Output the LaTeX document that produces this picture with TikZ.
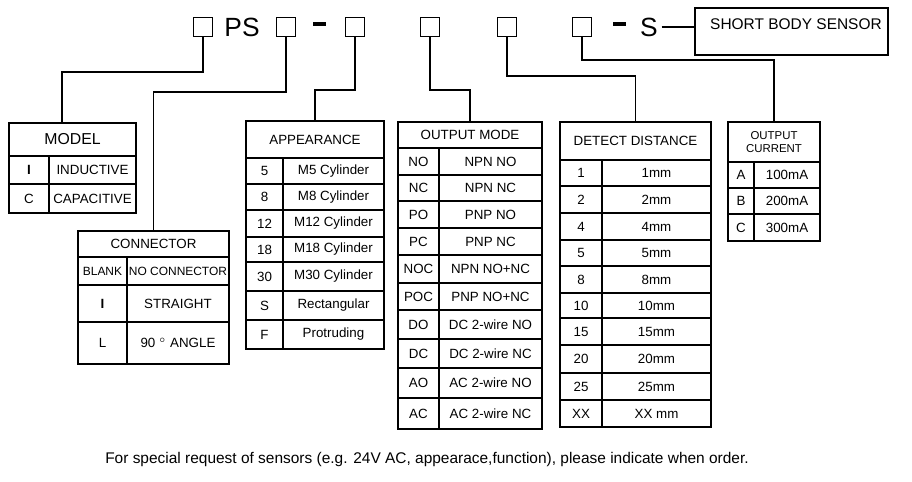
\documentclass[tikz,border=0pt]{standalone}
\usepackage{fontspec}
\setmainfont{Liberation Sans}
\usetikzlibrary{positioning}

\newcommand\cell[6]{\node[cell, minimum width={(#4-#2)*0.02cm}, minimum height={(#5-#3)*0.02cm}] (#1) at ({(#2+#4)/2},{(#3+#5)/2}) {#6};}
\newcommand\trow[8]{\cell{#1l}{#2}{#5}{#3}{#6}{#7}\cell{#1r}{#3}{#5}{#4}{#6}{#8}}

\begin{document}
\begin{tikzpicture}[x=0.02cm, y=-0.02cm,
  cell/.style={draw, line width=0.6pt, inner sep=0pt, font=\fontsize{7.6}{8.5}\selectfont},
  code/.style={draw, line width=0.5pt, minimum size=0.38cm, inner sep=0pt},
  bar/.style={fill, minimum width=0.26cm, minimum height=0.08cm, inner sep=0pt},
  big/.style={font=\fontsize{15}{17}\selectfont, inner sep=0pt},
  link/.style={line width=0.9pt}]

\path [use as bounding box] (0,0) rectangle (912,482);

% CODE
\node[code] (b1) at (203,27) {};
\node[big] (ps) at (242,27) {PS};
\node[code] (b2) at (286,27) {};
\node[bar] (d1) at (319,24) {};
\node[code] (b3) at (355,27) {};
\node[code] (b4) at (430,27) {};
\node[code] (b5) at (507,27) {};
\node[code] (b6) at (582,27) {};
\node[bar] (d2) at (619,24) {};
\node[big] (s) at (649,27) {S};
\node[draw, line width=0.6pt, minimum width=193*0.02cm, minimum height=47*0.02cm] (sbs) at (791.5,31.5) {};
\node[anchor=west, font=\fontsize{8.8}{10}\selectfont] at (704,24) {SHORT BODY SENSOR};
\draw [line width=0.6pt] (s.east) ++(2pt,0) coordinate (se) -- (se -| sbs.west);

% MODEL
\cell{mhead}{9}{123}{136}{156}{\fontsize{9}{10}\selectfont MODEL}
\trow{m1}{9}{49}{136}{156}{184}{\textbf{I}}{INDUCTIVE}
\trow{m2}{9}{49}{136}{184}{213}{C}{CAPACITIVE}

% CONNECTOR
\cell{chead}{78}{231}{229}{257}{CONNECTOR}
\trow{c1}{78}{127}{229}{257}{285}{\fontsize{6.8}{7}\selectfont BLANK}{\fontsize{6.8}{7}\selectfont NO CONNECTOR}
\trow{c2}{78}{127}{229}{285}{322}{\textbf{I}}{STRAIGHT}
\trow{c3}{78}{127}{229}{322}{364}{L}{90 $^\circ$ ANGLE}

% APPEARANCE
\cell{ahead}{246}{121}{384}{158}{APPEARANCE}
\trow{a1}{246}{283}{384}{158}{184}{5}{M5 Cylinder}
\trow{a2}{246}{283}{384}{184}{210}{8}{M8 Cylinder}
\trow{a3}{246}{283}{384}{210}{237}{12}{M12 Cylinder}
\trow{a4}{246}{283}{384}{237}{262}{18}{M18 Cylinder}
\trow{a5}{246}{283}{384}{262}{291}{30}{M30 Cylinder}
\trow{a6}{246}{283}{384}{291}{320}{S}{Rectangular}
\trow{a7}{246}{283}{384}{320}{349}{F}{Protruding}

% OUTPUT MODE
\cell{ohead}{398}{122}{542}{148}{OUTPUT MODE}
\trow{o1}{398}{439}{542}{148}{175}{NO}{NPN NO}
\trow{o2}{398}{439}{542}{175}{201}{NC}{NPN NC}
\trow{o3}{398}{439}{542}{201}{228}{PO}{PNP NO}
\trow{o4}{398}{439}{542}{228}{255}{PC}{PNP NC}
\trow{o5}{398}{439}{542}{255}{283}{NOC}{NPN NO+NC}
\trow{o6}{398}{439}{542}{283}{310}{POC}{PNP NO+NC}
\trow{o7}{398}{439}{542}{310}{339}{DO}{DC 2-wire NO}
\trow{o8}{398}{439}{542}{339}{368}{DC}{DC 2-wire NC}
\trow{o9}{398}{439}{542}{368}{398}{AO}{AC 2-wire NO}
\trow{o10}{398}{439}{542}{398}{429}{AC}{AC 2-wire NC}

% DETECT DISTANCE
\cell{dhead}{560}{122}{711}{160}{DETECT DISTANCE}
\trow{d1}{560}{602}{711}{160}{186}{1}{1mm}
\trow{d2}{560}{602}{711}{186}{213}{2}{2mm}
\trow{d3}{560}{602}{711}{213}{240}{4}{4mm}
\trow{d4}{560}{602}{711}{240}{266}{5}{5mm}
\trow{d5}{560}{602}{711}{266}{293}{8}{8mm}
\trow{d6}{560}{602}{711}{293}{318}{10}{10mm}
\trow{d7}{560}{602}{711}{318}{345}{15}{15mm}
\trow{d8}{560}{602}{711}{345}{373}{20}{20mm}
\trow{d9}{560}{602}{711}{373}{400}{25}{25mm}
\trow{d10}{560}{602}{711}{400}{427}{XX}{XX mm}

% OUTPUT CURRENT
\cell{ihead}{728}{122}{820}{162}{\parbox{1.5cm}{\centering\fontsize{6.5}{7.5}\selectfont OUTPUT\\CURRENT}}
\trow{i1}{728}{754}{820}{162}{188}{A}{100mA}
\trow{i2}{728}{754}{820}{188}{214}{B}{200mA}
\trow{i3}{728}{754}{820}{214}{241}{C}{300mA}

% LINKS
\draw [link] (b1.south) -- ++(0,35) -| ([xshift=-0.21cm]mhead.north);
\draw [link] (b2.south) -- ++(0,55) -| (chead.north);
\draw [link] (b3.south) -- ++(0,53) -| (ahead.north);
\draw [link] (b4.south) -- ++(0,53) -| (ohead.north);
\draw [link] (b5.south) -- ++(0,39) -| (dhead.north);
\draw [link] (b6.south) -- ++(0,23) -| (ihead.north);

% NOTE
\node[font=\fontsize{8.8}{10}\selectfont] (note) at (427,460) {For special request of sensors (e.g. 24V AC, appearace,function), please indicate when order.};

\end{tikzpicture}
\end{document}
